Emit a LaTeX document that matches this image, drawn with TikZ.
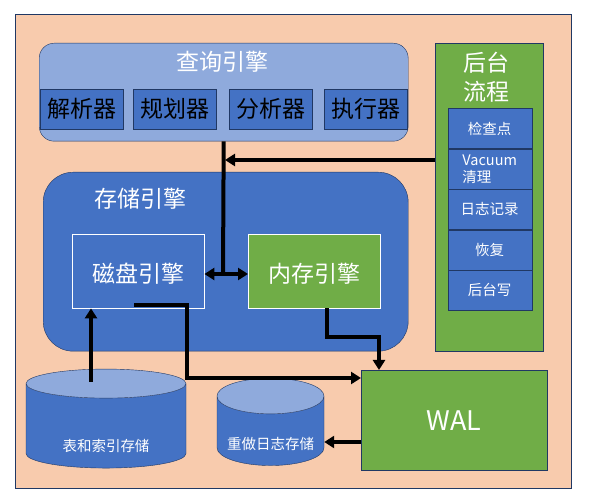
\documentclass[tikz,border=0pt]{standalone}
\usepackage{fontspec}
\setmainfont{Noto Sans CJK SC}
\usepackage{xcolor}
\usepackage{tikz}
\usetikzlibrary{positioning, arrows.meta, shapes.geometric}
\definecolor{peach}{HTML}{F8CBAD}
\definecolor{navy}{HTML}{203864}
\definecolor{paleblue}{HTML}{8FAADC}
\definecolor{midblue}{HTML}{4472C4}
\definecolor{leafgreen}{HTML}{70AD47}

\begin{document}
\begin{tikzpicture}[x=1pt, y=-1pt,
    panel/.style={draw=navy, anchor=north west, inner sep=0pt},
    bigtext/.style={font=\fontsize{23}{29}\selectfont},
    smalltext/.style={font=\fontsize{14.5}{17}\selectfont},
    qpart/.style={panel, fill=midblue, bigtext, minimum width=83pt, minimum height=40pt},
    bgpart/.style={draw=navy, fill=midblue, text=white, smalltext, inner sep=0pt,
                   minimum width=84pt, minimum height=40pt},
    engine/.style={draw=white, fill=#1, text=white, bigtext, anchor=north west,
                   minimum width=132pt, minimum height=74pt, text height=24pt},
    store/.style={cylinder, shape border rotate=90, draw=navy, cylinder uses custom fill,
                  cylinder body fill=midblue, cylinder end fill=paleblue, text=white, smalltext},
    headtip/.tip={Triangle[length=10pt, width=12pt]},
    link/.style={line width=4pt, -headtip}]
  \useasboundingbox (0,0) rectangle (592,502);
  \draw[navy, fill=peach] (15,14) rectangle (571,488);

  % query engine
  \node[panel, fill=paleblue, rounded corners=15pt, minimum width=369pt, minimum height=98pt] (query) at (39,43) {};
  \node[bigtext, text=white] (querytitle) at (222,62) {查询引擎};
  \node[qpart] (parser) at (40,89) {解析器};
  \node[qpart, right=10pt of parser] (planner) {规划器};
  \node[qpart, right=12pt of planner] (analyzer) {分析器};
  \node[qpart, right=12pt of analyzer] (executor) {执行器};

  % storage engine
  \node[panel, fill=midblue, rounded corners=30pt, minimum width=365pt, minimum height=179pt] (storage) at (43,172) {};
  \node[bigtext, text=white] (storagetitle) at (140,199) {存储引擎};
  \node[engine=midblue] (diskeng) at (72,234) {磁盘引擎};
  \node[engine=leafgreen] (memeng) at (248,234) {内存引擎};

  % background processes
  \node[panel, fill=leafgreen, minimum width=108pt, minimum height=308pt] (bg) at (435,43) {};
  \node[bigtext, text=white, align=center] (bgtitle) at (486,77) {后台\\流程};
  \node[bgpart, anchor=north west] (ckpt) at (447.5,108.5) {检查点};
  \node[bgpart, below=0pt of ckpt, align=left] (vacuum) {Vacuum\\清理};
  \node[bgpart, below=0pt of vacuum] (logger) {日志记录};
  \node[bgpart, below=0pt of logger] (recovery) {恢复};
  \node[bgpart, below=0pt of recovery] (bgwriter) {后台写};

  % WAL and storage
  \node[panel, fill=leafgreen, text=white, font=\fontsize{27}{30}\selectfont,
        minimum width=186pt, minimum height=100pt] (wal) at (361,370) {WAL};
  \node[store, aspect=0.31, minimum width=160pt, minimum height=99pt, text height=48pt] (tabledb) at (106,428) {表和索引存储};
  \node[store, aspect=0.38, minimum width=107pt, minimum height=82pt, text height=32pt] (redodb) at (270.5,434) {重做日志存储};

  % connectors
  \coordinate (hub) at (223,274);
  \coordinate (bgtap) at (225,160);
  \coordinate (diskbend) at (187,378);
  \coordinate (membend) at (379,337);
  \draw[line width=4pt] (query.south) -- (hub);
  \draw[line width=4pt, headtip-headtip] (diskeng.east |- hub) -- (memeng.west |- hub);
  \draw[link] (bg.west |- bgtap) -- (bgtap);
  \draw[link] ([xshift=-4pt, yshift=3pt]diskeng.south) -| (diskbend) -- (wal.west |- diskbend);
  \draw[link] ([xshift=12.5pt]memeng.south) |- (membend) -- (wal.north -| membend);
  \draw[link] (91,382) -- (diskeng.south -| 91,0);
  \draw[link] (wal.west |- 0,442) -- (redodb.east |- 0,442);
\end{tikzpicture}
\end{document}
